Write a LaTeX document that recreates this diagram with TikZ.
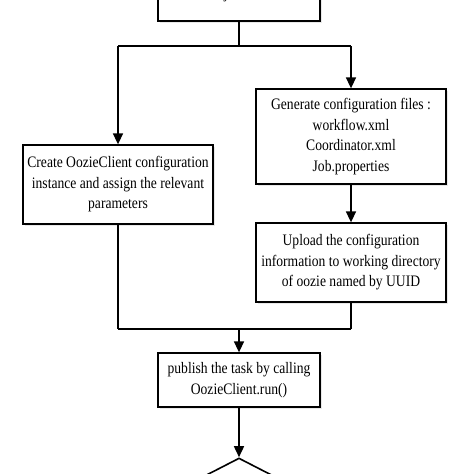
\documentclass[tikz,border=0pt]{standalone}
\usepackage{fontspec}
\setmainfont{Liberation Serif}[FakeStretch=0.85]
\usetikzlibrary{arrows.meta,shapes.geometric,shadows}
\begin{document}
\begin{tikzpicture}[x=1pt,y=-1pt,
  box/.style={draw, line width=1.3pt, fill=white, align=center, inner sep=0pt,
    font=\fontsize{16}{20.5}\selectfont,
    drop shadow={opacity=0.18, shadow xshift=2pt, shadow yshift=-2pt}},
  conn/.style={line width=1.6pt},
  arr/.style={conn, -{Triangle[length=11pt,width=10pt]}}]
\useasboundingbox (0,0) rectangle (474,474);
\clip (0,0) rectangle (474,474);
\fill[white] (0,0) rectangle (474,474);
% boxes
\node[box, minimum width=162, minimum height=52] (top) at (239,-5) {Submit a job for the task};
\node[box, minimum width=190, minimum height=79] (create) at (118,184.5)
  {Create OozieClient configuration\\instance and assign the relevant\\parameters};
\node[box, minimum width=190, minimum height=95] (gen) at (351,136.5)
  {Generate configuration files :\\workflow.xml\\Coordinator.xml\\Job.properties};
\node[box, minimum width=190, minimum height=79] (upload) at (351,262.5)
  {Upload the configuration\\information to working directory\\of oozie named by UUID};
\node[box, minimum width=162, minimum height=54] (publish) at (239,380)
  {publish the task by calling\\OozieClient.run()};
\node[draw, line width=1.6pt, diamond, aspect=1.94, minimum width=124, minimum height=64, inner sep=0pt] (dec) at (239,490) {};
% junctions
\coordinate (j1) at (239,46);
\coordinate (jl) at (118,46);
\coordinate (jr) at (351,46);
\coordinate (j2) at (239,329);
\coordinate (kl) at (118,329);
\coordinate (kr) at (351,329);
% connectors
\draw[conn] (top.south) -- (j1);
\draw[conn] (jl) -- (jr);
\draw[arr] (jl) -- (create.north);
\draw[arr] (jr) -- (gen.north);
\draw[arr] (gen.south) -- (upload.north);
\draw[conn] (create.south) -- (kl);
\draw[conn] (upload.south) -- (kr);
\draw[conn] (kl) -- (kr);
\draw[arr] (j2) -- (publish.north);
\draw[arr] (publish.south) -- (dec.north);
\end{tikzpicture}
\end{document}
